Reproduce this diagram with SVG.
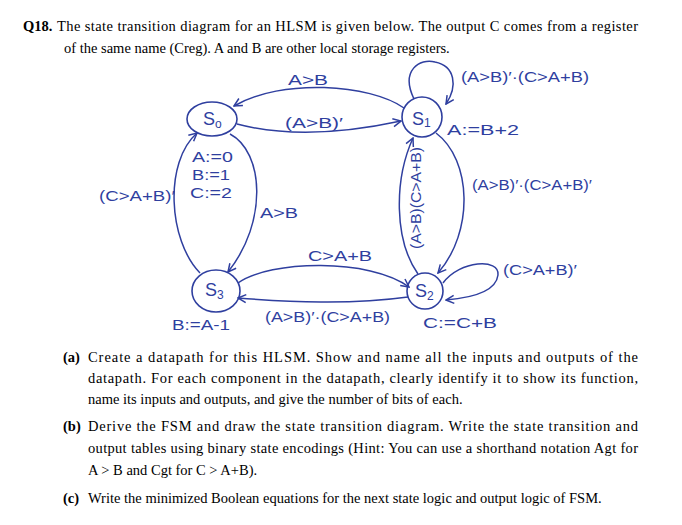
<svg xmlns="http://www.w3.org/2000/svg" width="682" height="525" viewBox="0 0 682 525">
<style>
.q{font-family:"Liberation Serif","Times New Roman",serif;font-size:14.5px;fill:#000}
.b{font-weight:bold}
.h{font-family:"Liberation Sans",Arial,sans-serif;font-size:15px;fill:#2f3f9f}
.st{font-family:"Liberation Sans",Arial,sans-serif;font-size:18px;fill:#2f3f9f}
.sub{font-size:12px}
.node{fill:none;stroke:#2f3f9f;stroke-width:1.6}
.edge{fill:none;stroke:#2f3f9f;stroke-width:1.5;marker-end:url(#arr)}
</style>
<defs>
<marker id="arr" markerUnits="userSpaceOnUse" viewBox="0 0 10 10" refX="9" refY="5" markerWidth="10" markerHeight="10" orient="auto">
<path d="M1,1 L9,5 L1,9" fill="none" stroke="#2f3f9f" stroke-width="1.5"/>
</marker>
</defs>
<rect width="682" height="525" fill="#fff"/>

<g id="header">
<text class="q" y="31"><tspan class="b" x="23">Q18.</tspan><tspan x="57" textLength="581" lengthAdjust="spacing">The state transition diagram for an HLSM is given below. The output C comes from a register</tspan></text>
<text class="q" x="64" y="53">of the same name (Creg). A and B are other local storage registers.</text>
</g>

<g id="connectors">
<path class="edge" d="M404,108 C370,84 282,78 234,106"/>
<path class="edge" d="M237,124 C290,138 350,132 401,121"/>
<path class="edge" d="M414,99 C400,70 420,58 435,62 C455,66 458,86 446,104"/>
<path class="edge" d="M436,133 C472,160 474,232 438,273"/>
<path class="edge" d="M418,274 C394,240 394,180 413,138"/>
<path class="edge" d="M200,273 C168,240 164,162 197,133"/>
<path class="edge" d="M230,134 C264,152 268,222 228,272"/>
<path class="edge" d="M238,283 C270,260 370,258 409,287"/>
<path class="edge" d="M408,297 C350,305 290,302 238,298"/>
<path class="edge" d="M443,283 C460,260 500,258 498,275 C496,292 470,298 446,300"/>
</g>

<g id="edge-labels">
<text class="h" x="288" y="85" textLength="40" lengthAdjust="spacingAndGlyphs">A&gt;B</text>
<text class="h" x="285" y="128" textLength="58" lengthAdjust="spacingAndGlyphs">(A&gt;B)′</text>
<text class="h" x="461" y="82" textLength="128" lengthAdjust="spacingAndGlyphs">(A&gt;B)′·(C&gt;A+B)</text>
<text class="h" x="472" y="190" textLength="120" lengthAdjust="spacingAndGlyphs">(A&gt;B)′·(C&gt;A+B)′</text>
<text class="h" transform="translate(421,198) rotate(-90)" text-anchor="middle" textLength="102" lengthAdjust="spacingAndGlyphs">(A&gt;B)(C&gt;A+B)</text>
<text class="h" x="99" y="201" textLength="76" lengthAdjust="spacingAndGlyphs">(C&gt;A+B)′</text>
<text class="h" x="260" y="218" textLength="38" lengthAdjust="spacingAndGlyphs">A&gt;B</text>
<text class="h" x="308" y="261" textLength="64" lengthAdjust="spacingAndGlyphs">C&gt;A+B</text>
<text class="h" x="265" y="322" textLength="125" lengthAdjust="spacingAndGlyphs">(A&gt;B)′·(C&gt;A+B)</text>
<text class="h" x="503" y="275" textLength="74" lengthAdjust="spacingAndGlyphs">(C&gt;A+B)′</text>
</g>

<g id="S0">
<ellipse class="node" cx="212" cy="119" rx="25" ry="17"/>
<text class="st" x="203" y="125">S<tspan class="sub" dy="3">o</tspan></text>
<text class="h" x="192" y="162" textLength="41" lengthAdjust="spacingAndGlyphs">A:=0</text>
<text class="h" x="192" y="180" textLength="38" lengthAdjust="spacingAndGlyphs">B:=1</text>
<text class="h" x="190" y="198" textLength="42" lengthAdjust="spacingAndGlyphs">C:=2</text>
</g>

<g id="S1">
<circle class="node" cx="422" cy="117" r="20"/>
<text class="st" x="412" y="125">S<tspan class="sub" dy="2">1</tspan></text>
<text class="h" x="447" y="135" textLength="72" lengthAdjust="spacingAndGlyphs">A:=B+2</text>
</g>

<g id="S2">
<circle class="node" cx="425" cy="291" r="18"/>
<text class="st" x="415" y="297">S<tspan class="sub" dy="3">2</tspan></text>
<text class="h" x="423" y="328" textLength="74" lengthAdjust="spacingAndGlyphs">C:=C+B</text>
</g>

<g id="S3">
<ellipse class="node" cx="216" cy="291" rx="24" ry="21"/>
<text class="st" x="205" y="296">S<tspan class="sub" dy="3">3</tspan></text>
<text class="h" x="172" y="330" textLength="58" lengthAdjust="spacingAndGlyphs">B:=A-1</text>
</g>

<g id="questions">
<text class="q" y="362"><tspan class="b" x="63">(a)</tspan><tspan x="88" textLength="550" lengthAdjust="spacing">Create a datapath for this HLSM. Show and name all the inputs and outputs of the</tspan></text>
<text class="q" x="88" y="383" textLength="550" lengthAdjust="spacing">datapath. For each component in the datapath, clearly identify it to show its function,</text>
<text class="q" x="88" y="404">name its inputs and outputs, and give the number of bits of each.</text>
<text class="q" y="431"><tspan class="b" x="63">(b)</tspan><tspan x="88" textLength="550" lengthAdjust="spacing">Derive the FSM and draw the state transition diagram. Write the state transition and</tspan></text>
<text class="q" x="88" y="453" textLength="550" lengthAdjust="spacing">output tables using binary state encodings (Hint: You can use a shorthand notation Agt for</text>
<text class="q" x="88" y="475">A &gt; B and Cgt for C &gt; A+B).</text>
<text class="q" y="503"><tspan class="b" x="63">(c)</tspan><tspan x="88">Write the minimized Boolean equations for the next state logic and output logic of FSM.</tspan></text>
</g>
</svg>
